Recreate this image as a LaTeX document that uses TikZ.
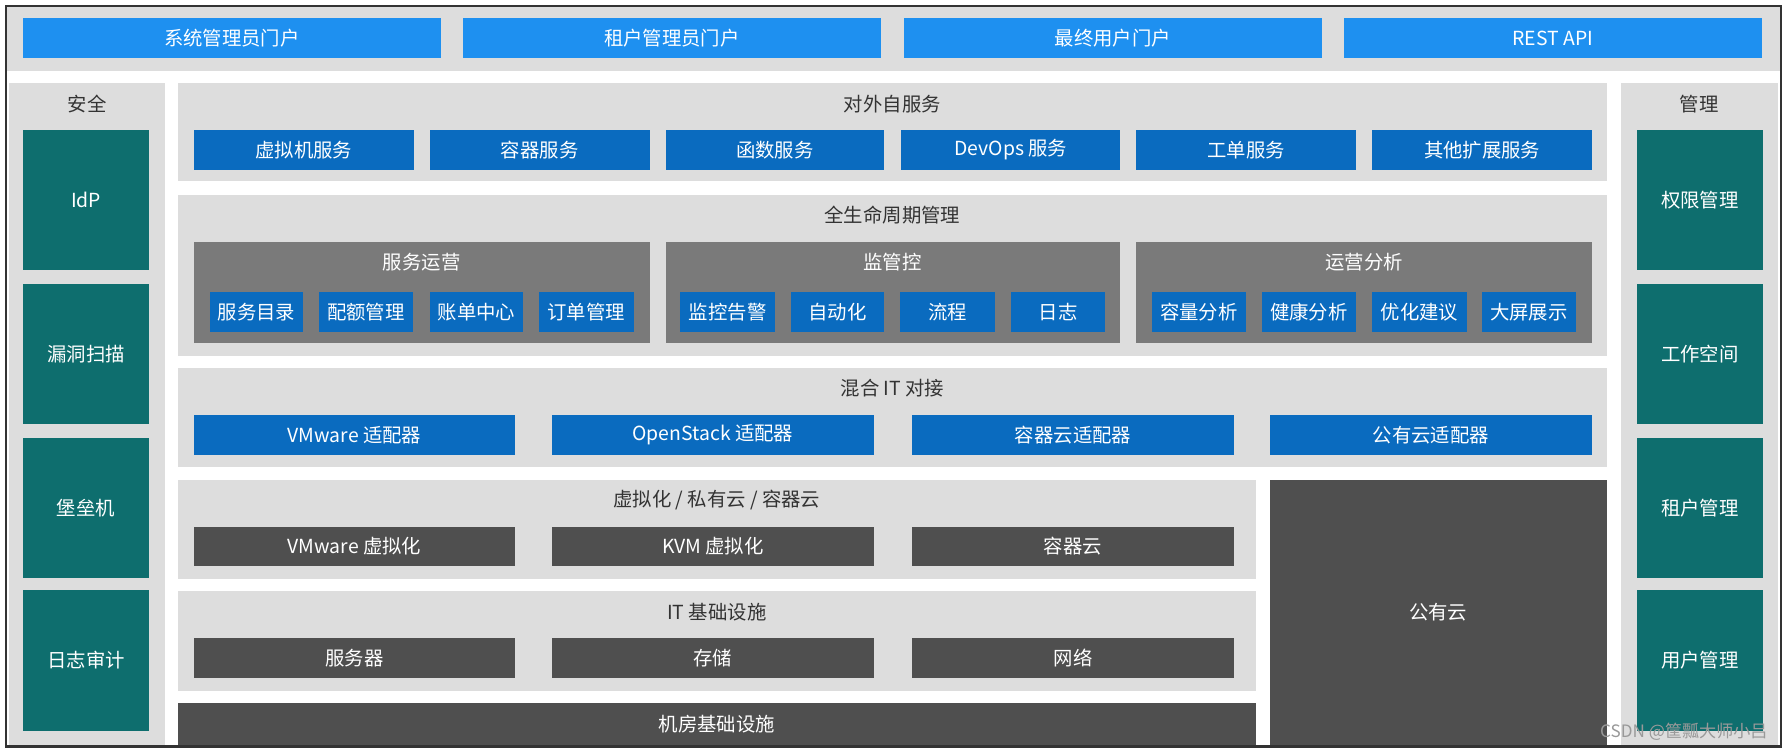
\documentclass[tikz,border=0pt]{standalone}
\usepackage{fontspec}
\setmainfont{Noto Sans CJK SC}
\definecolor{topblue}{HTML}{1E90F0}
\definecolor{btnblue}{HTML}{0A6BBF}
\definecolor{teal}{HTML}{0E6E6E}
\definecolor{panel}{HTML}{DDDDDD}
\definecolor{sub}{HTML}{7A7A7A}
\definecolor{dark}{HTML}{4F4F4F}
\definecolor{ttl}{HTML}{333333}
\tikzset{
 px/.style={x=0.5pt,y=-0.5pt},
 lbl/.style={font=\fontsize{8.5}{10}\selectfont,text=ttl},
 wlbl/.style={font=\fontsize{8.5}{10}\selectfont,text=white},
}
\newcommand{\bx}[6]{\fill[#5] (#1,#2) rectangle (#3,#4); \node[wlbl] at ({(#1+#3)/2},{(#2+#4)/2}) {#6};}
\newcommand{\pn}[5]{\fill[panel] (#1,#2) rectangle (#3,#4); \node[lbl] at ({(#1+#3)/2},{#2+18}) {#5};}
\begin{document}
\begin{tikzpicture}[px]
\useasboundingbox (0,0) rectangle (1568,659);
\fill[white] (0,0) rectangle (1568,659);
\fill[panel] (6,6) rectangle (1562,62);
% top
\bx{20}{16}{387}{51}{topblue}{系统管理员门户}
\bx{406}{16}{773}{51}{topblue}{租户管理员门户}
\bx{793}{16}{1160}{51}{topblue}{最终用户门户}
\bx{1179}{16}{1546}{51}{topblue}{REST API}
% left
\pn{8}{73}{145}{654}{安全}
\bx{20}{114}{131}{237}{teal}{IdP}
\bx{20}{249}{131}{372}{teal}{漏洞扫描}
\bx{20}{384}{131}{507}{teal}{堡垒机}
\bx{20}{518}{131}{641}{teal}{日志审计}
% right
\pn{1422}{73}{1560}{654}{管理}
\bx{1436}{114}{1547}{237}{teal}{权限管理}
\bx{1436}{249}{1547}{372}{teal}{工作空间}
\bx{1436}{384}{1547}{507}{teal}{租户管理}
\bx{1436}{518}{1547}{641}{teal}{用户管理}
% panel 1
\pn{156}{73}{1410}{159}{对外自服务}
\bx{170}{114}{363}{149}{btnblue}{虚拟机服务}
\bx{377}{114}{570}{149}{btnblue}{容器服务}
\bx{584}{114}{776}{149}{btnblue}{函数服务}
\bx{791}{114}{983}{149}{btnblue}{DevOps 服务}
\bx{997}{114}{1190}{149}{btnblue}{工单服务}
\bx{1204}{114}{1397}{149}{btnblue}{其他扩展服务}
% panel 2
\pn{156}{171}{1410}{312}{全生命周期管理}
\fill[sub] (170,212) rectangle (570,301); \node[wlbl] at (370,230) {服务运营};
\fill[sub] (584,212) rectangle (983,301); \node[wlbl] at (783,230) {监管控};
\fill[sub] (997,212) rectangle (1397,301); \node[wlbl] at (1197,230) {运营分析};
\bx{184}{256}{266}{291}{btnblue}{服务目录}
\bx{280}{256}{362}{291}{btnblue}{配额管理}
\bx{377}{256}{459}{291}{btnblue}{账单中心}
\bx{473}{256}{556}{291}{btnblue}{订单管理}
\bx{597}{256}{680}{291}{btnblue}{监控告警}
\bx{694}{256}{776}{291}{btnblue}{自动化}
\bx{790}{256}{873}{291}{btnblue}{流程}
\bx{887}{256}{970}{291}{btnblue}{日志}
\bx{1011}{256}{1093}{291}{btnblue}{容量分析}
\bx{1107}{256}{1190}{291}{btnblue}{健康分析}
\bx{1204}{256}{1287}{291}{btnblue}{优化建议}
\bx{1300}{256}{1383}{291}{btnblue}{大屏展示}
% panel 3
\pn{156}{323}{1410}{410}{混合 IT 对接}
\bx{170}{364}{452}{399}{btnblue}{VMware 适配器}
\bx{484}{364}{767}{399}{btnblue}{OpenStack 适配器}
\bx{800}{364}{1083}{399}{btnblue}{容器云适配器}
\bx{1114}{364}{1397}{399}{btnblue}{公有云适配器}
% panel 4
\pn{156}{421}{1102}{508}{虚拟化 / 私有云 / 容器云}
\bx{170}{462}{452}{497}{dark}{VMware 虚拟化}
\bx{484}{462}{767}{497}{dark}{KVM 虚拟化}
\bx{800}{462}{1083}{497}{dark}{容器云}
\bx{1114}{421}{1410}{654}{dark}{公有云}
% panel 5
\pn{156}{519}{1102}{606}{IT 基础设施}
\bx{170}{560}{452}{595}{dark}{服务器}
\bx{484}{560}{767}{595}{dark}{存储}
\bx{800}{560}{1083}{595}{dark}{网络}
\bx{156}{617}{1102}{654}{dark}{机房基础设施}
\draw[line width=1pt,ttl] (5,5) rectangle (1563,655);
\node[font=\fontsize{7.5}{9}\selectfont,text=gray!80,anchor=east] (wm) at (1558,642) {CSDN @筐瓢大师小吕};
\end{tikzpicture}
\end{document}
